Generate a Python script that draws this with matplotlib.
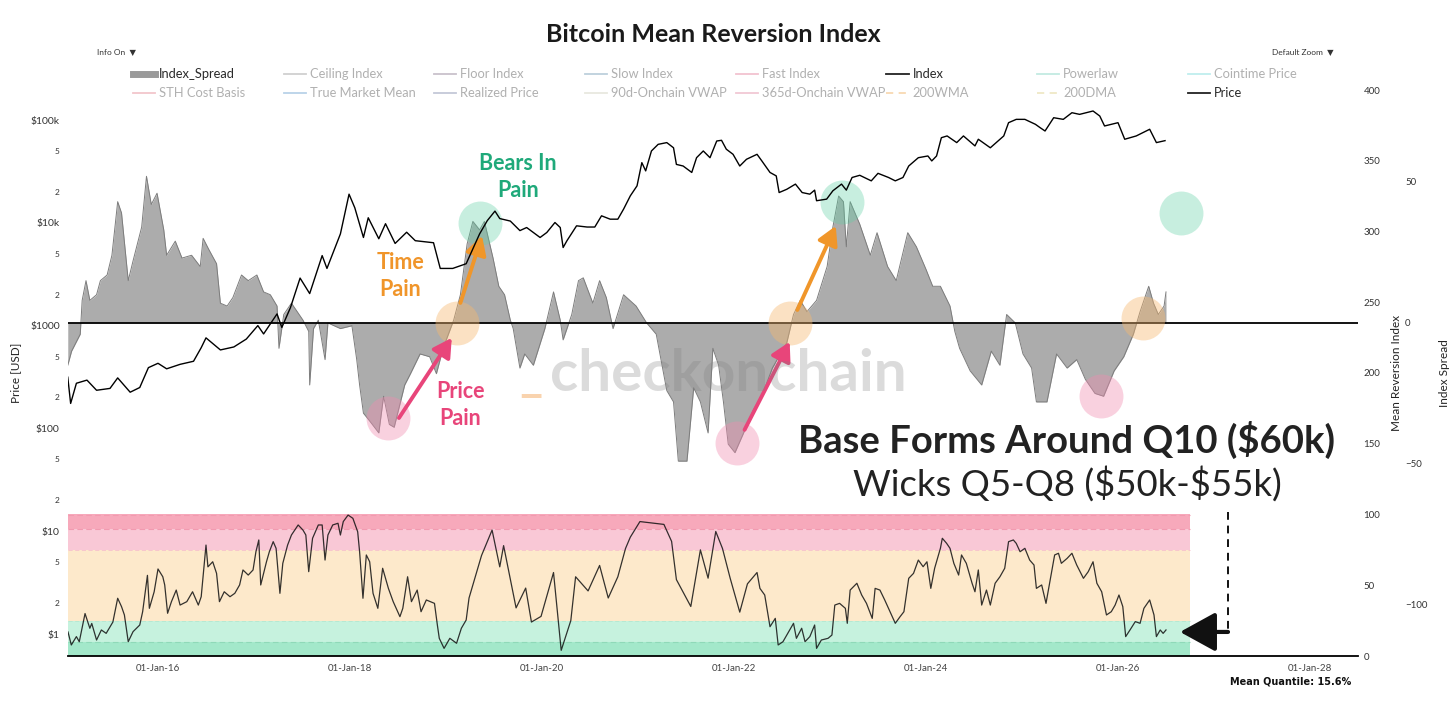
import matplotlib
matplotlib.use("Agg")
import matplotlib.pyplot as plt
from matplotlib.lines import Line2D
from matplotlib.ticker import FixedLocator, FixedFormatter

plt.rcParams['font.family'] = ['Lato', 'DejaVu Sans']

# ---------------------------------------------------------------- data
price_years = [
    2015.06, 2015.09, 2015.15, 2015.26, 2015.36, 2015.50, 2015.58, 2015.71, 2015.81, 2015.90,
    2016.00, 2016.09, 2016.23, 2016.37, 2016.45, 2016.50, 2016.65, 2016.79, 2016.92, 2017.04,
    2017.10, 2017.24, 2017.29, 2017.38, 2017.48, 2017.58, 2017.71, 2017.76, 2017.90, 2017.99,
    2018.05, 2018.14, 2018.19, 2018.30, 2018.37, 2018.47, 2018.59, 2018.68, 2018.87, 2018.94,
    2019.07, 2019.21, 2019.35, 2019.43, 2019.51, 2019.56, 2019.67, 2019.77, 2019.84, 2019.98,
    2020.05, 2020.135, 2020.19, 2020.22, 2020.26, 2020.36, 2020.47, 2020.55, 2020.62, 2020.71,
    2020.79, 2020.85, 2020.92, 2020.99, 2021.04, 2021.08, 2021.14, 2021.21, 2021.30, 2021.37,
    2021.40, 2021.47, 2021.56, 2021.61, 2021.68, 2021.75, 2021.82, 2021.87, 2021.92, 2021.99,
    2022.06, 2022.13, 2022.24, 2022.29, 2022.375, 2022.44, 2022.47, 2022.55, 2022.64, 2022.71,
    2022.79, 2022.84, 2022.86, 2022.965, 2023.03, 2023.12, 2023.17, 2023.23, 2023.31, 2023.43,
    2023.50, 2023.61, 2023.68, 2023.76, 2023.82, 2023.92, 2024.02, 2024.06, 2024.11, 2024.16,
    2024.22, 2024.32, 2024.39, 2024.51, 2024.545, 2024.67, 2024.81, 2024.86, 2024.94, 2025.03,
    2025.14, 2025.19, 2025.24, 2025.33, 2025.43, 2025.52, 2025.60, 2025.74, 2025.81, 2025.86,
    2026.00, 2026.07, 2026.19, 2026.33, 2026.40, 2026.49]
price_usd = [
    315, 175, 275, 295, 235, 245, 310, 225, 250, 390,
    430, 380, 420, 450, 610, 760, 580, 620, 740, 1000,
    830, 1300, 960, 1500, 2900, 2050, 4800, 3600, 7800, 19000,
    14000, 7200, 11200, 7000, 9800, 6300, 8100, 6700, 6400, 3600,
    3600, 4000, 7800, 10500, 13000, 11000, 10400, 8400, 9000, 7200,
    8050, 10070, 9000, 5750, 6700, 9350, 9100, 9100, 11700, 10850,
    10850, 13600, 18300, 22900, 38500, 32000, 50000, 58000, 60300, 53700,
    37000, 35700, 30900, 43000, 50000, 43000, 62500, 63500, 52000, 46400,
    35700, 41500, 46400, 40000, 30900, 28600, 19700, 21200, 23800, 19700,
    19000, 20800, 16400, 17000, 20500, 23800, 20800, 27600, 29000, 25600,
    30300, 27600, 25600, 27600, 35700, 43000, 44700, 40000, 44700, 67300,
    70000, 60300, 70000, 56000, 65000, 53700, 70000, 94200, 101500, 101500,
    90800, 84100, 78200, 105300, 101500, 117800, 113500, 122400, 109400, 87500,
    94200, 65000, 70000, 81300, 60300, 63000]

spread_years = [
    2015.06, 2015.10, 2015.19, 2015.21, 2015.25, 2015.29, 2015.36, 2015.40, 2015.47, 2015.52,
    2015.58, 2015.62, 2015.69, 2015.74, 2015.83, 2015.88, 2015.93, 2015.99, 2016.06, 2016.09,
    2016.18, 2016.25, 2016.35, 2016.44, 2016.47, 2016.53, 2016.61, 2016.65, 2016.72, 2016.78,
    2016.87, 2016.94, 2017.03, 2017.10, 2017.17, 2017.24, 2017.26, 2017.31, 2017.39, 2017.51,
    2017.57, 2017.58, 2017.62, 2017.67, 2017.74, 2017.77, 2017.90, 2018.02, 2018.07, 2018.10,
    2018.14, 2018.21, 2018.30, 2018.35, 2018.41, 2018.46, 2018.57, 2018.63, 2018.73, 2018.83,
    2018.90, 2018.97, 2019.08, 2019.15, 2019.22, 2019.28, 2019.35, 2019.40, 2019.49, 2019.55,
    2019.61, 2019.67, 2019.70, 2019.77, 2019.82, 2019.91, 2020.03, 2020.12, 2020.19, 2020.22,
    2020.31, 2020.38, 2020.43, 2020.53, 2020.60, 2020.67, 2020.74, 2020.85, 2020.98, 2021.09,
    2021.19, 2021.30, 2021.37, 2021.42, 2021.51, 2021.58, 2021.65, 2021.73, 2021.78, 2021.84,
    2021.89, 2021.94, 2022.01, 2022.10, 2022.20, 2022.30, 2022.40, 2022.55, 2022.62, 2022.69,
    2022.76, 2022.86, 2022.97, 2023.03, 2023.09, 2023.14, 2023.17, 2023.21, 2023.31, 2023.42,
    2023.49, 2023.60, 2023.69, 2023.81, 2023.90, 2024.00, 2024.07, 2024.15, 2024.25, 2024.30,
    2024.35, 2024.46, 2024.58, 2024.68, 2024.77, 2024.84, 2024.93, 2025.01, 2025.10, 2025.15,
    2025.26, 2025.36, 2025.47, 2025.57, 2025.66, 2025.76, 2025.85, 2025.96, 2026.06, 2026.16,
    2026.23, 2026.32, 2026.37, 2026.42, 2026.48, 2026.50]
spread_values = [
    -15, -10, -4, 8, 15, 8, 10, 15, 17, 24,
    43, 39, 15, 22, 34, 52, 42, 46, 33, 24,
    29, 23, 24, 20, 30, 26, 21, 7, 6, 9,
    17, 15, 17, 11, 10, 6, -9, 3, 7, 1,
    -3, -22, -2, 1, -13, 0, -2, -1, -13, -22,
    -32, -35, -39, -26, -36, -37, -22, -18, -11, -12,
    -18, -9, 1, 10, 28, 36, 33, 36, 23, 13,
    10, 1, -2, -16, -11, -15, -2, 11, 1, -6,
    3, 15, 16, 7, 15, 9, -2, 10, 6, 0,
    -4, -24, -28, -49, -49, -23, -28, -39, -9, -15,
    -28, -43, -46, -39, -31, -25, -16, -7, 3, 8,
    4, 8, 20, 34, 45, 43, 27, 43, 35, 24,
    32, 20, 15, 32, 27, 19, 13, 13, 6, -3,
    -9, -17, -22, -10, -15, 3, 0, -11, -16, -28,
    -28, -11, -16, -13, -20, -25, -26, -17, -12, -4,
    4, 13, 7, 3, 6, 11]

index_years = [
    2015.0625, 2015.097, 2015.15, 2015.18, 2015.24, 2015.29, 2015.31, 2015.36, 2015.41, 2015.46,
    2015.53, 2015.58, 2015.62, 2015.65, 2015.69, 2015.74, 2015.81, 2015.84, 2015.89, 2015.91,
    2015.96, 2016.00, 2016.05, 2016.07, 2016.10, 2016.14, 2016.19, 2016.23, 2016.30, 2016.36,
    2016.42, 2016.45, 2016.50, 2016.52, 2016.57, 2016.61, 2016.64, 2016.69, 2016.75, 2016.80,
    2016.85, 2016.885, 2016.94, 2016.99, 2017.02, 2017.05, 2017.07, 2017.13, 2017.16, 2017.20,
    2017.23, 2017.27, 2017.30, 2017.35, 2017.39, 2017.46, 2017.51, 2017.54, 2017.57, 2017.61,
    2017.67, 2017.71, 2017.74, 2017.77, 2017.82, 2017.875, 2017.90, 2017.93, 2017.98, 2018.03,
    2018.08, 2018.10, 2018.135, 2018.17, 2018.205, 2018.24, 2018.29, 2018.34, 2018.40, 2018.45,
    2018.52, 2018.55, 2018.60, 2018.64, 2018.70, 2018.74, 2018.795, 2018.88, 2018.91, 2018.93,
    2018.98, 2019.04, 2019.11, 2019.16, 2019.21,
    2019.24, 2019.37, 2019.48, 2019.56, 2019.60, 2019.73, 2019.83, 2019.89, 2019.99, 2020.12,
    2020.20, 2020.30, 2020.35, 2020.48, 2020.60, 2020.69, 2020.79, 2020.87, 2020.92, 2021.02,
    2021.15, 2021.27, 2021.35, 2021.40, 2021.55, 2021.65, 2021.73, 2021.81, 2021.88, 2021.96,
    2022.06, 2022.14, 2022.24,
    2022.27, 2022.32, 2022.36, 2022.375, 2022.43, 2022.46, 2022.51, 2022.57, 2022.62, 2022.65,
    2022.705, 2022.74, 2022.79, 2022.84, 2022.86, 2022.91, 2022.98, 2023.02, 2023.05, 2023.10,
    2023.16, 2023.18, 2023.21, 2023.28, 2023.33, 2023.38, 2023.44, 2023.47, 2023.52, 2023.57,
    2023.625, 2023.68, 2023.73, 2023.77, 2023.82, 2023.87, 2023.92, 2023.97, 2024.01, 2024.05,
    2024.09, 2024.15, 2024.17, 2024.215, 2024.25, 2024.29, 2024.34, 2024.37, 2024.42, 2024.48,
    2024.51, 2024.545, 2024.58, 2024.63, 2024.67, 2024.72, 2024.77, 2024.82, 2024.86, 2024.91,
    2024.94, 2024.98, 2025.03, 2025.08, 2025.125, 2025.15, 2025.205, 2025.25, 2025.29, 2025.34,
    2025.38, 2025.41, 2025.47, 2025.52, 2025.57, 2025.64, 2025.69, 2025.74, 2025.78, 2025.83,
    2025.88, 2025.93, 2025.97, 2026.01, 2026.05, 2026.08, 2026.125, 2026.18, 2026.23, 2026.27,
    2026.33, 2026.375, 2026.40, 2026.44, 2026.47, 2026.50]
index_values = [
    17, 7.8, 13.7, 10.1, 30, 19.6, 23, 11.3, 18.4, 16,
    24, 40.8, 34.9, 29, 10.1, 17.2, 21.9, 31.3, 57, 33.7,
    45.4, 61.5, 56, 50.2, 30.2, 38.4, 46.6, 36, 38.4, 45.4,
    36, 41.9, 78.4, 63, 66.6, 58.4, 38.4, 45.4, 41.9, 44.3,
    50.2, 60.8, 57.2, 60.8, 73.7, 82, 50.2, 66.6, 73.7, 80.8,
    76.1, 44.3, 65.5, 78.4, 85.5, 92.6, 89, 85.5, 59.6, 83.2,
    92.6, 92.6, 67.8, 85.5, 92.6, 93.8, 85.5, 95, 99.6, 97.3,
    87.8, 73.7, 40.8, 71.4, 66.6, 44.3, 33.7, 62, 47.8, 38.4,
    27.8, 33.7, 56, 38.4, 46.6, 31.3, 39.6, 37.2, 21.9, 12.5,
    5.4, 12.5, 9, 19.6, 25.4,
    41, 71, 89, 63, 78, 34, 48, 24, 28, 59,
    4, 25, 56, 46, 64, 41, 56, 76, 84, 95,
    94, 93, 81, 54, 35, 75, 55, 88, 76, 55,
    31, 51, 59,
    47.8, 43.1, 26.6, 20.7, 26.6, 7.8, 10.1, 17.2, 23.1, 12.5,
    19.6, 10.1, 13.7, 21.9, 5.4, 11.3, 12.5, 14.8, 36, 37.2,
    33.7, 23.1, 46.6, 51.4, 43.1, 37.2, 26.6, 47.8, 46.6, 39.6,
    31.3, 23.1, 27.8, 31.3, 54.9, 58.4, 67.8, 63.1, 66.6, 47.8,
    62, 76.1, 83.2, 79.6, 76.1, 65.5, 57.2, 71.4, 65.5, 51.4,
    45.4, 60.8, 36, 46.6, 36, 51.4, 56, 62, 80.8, 82,
    79.6, 73.7, 76.1, 67.8, 64.3, 47.8, 50.2, 37.2, 52.5, 71.4,
    72.6, 65.5, 69, 72.6, 64.3, 54.9, 59.6, 66.6, 51.4, 45.4,
    29, 31.3, 36, 43.1, 34.9, 13.7, 18.4, 24.3, 23.1, 33.7,
    39.6, 29, 13.7, 18.4, 16, 18.4]

band_levels = [0, 10, 25, 75, 90, 100]
band_colors = ['#a3e8ca', '#c6f2de', '#fde9cb', '#f9c8d6', '#f7a9bb']
band_start_year = 2015.0625
band_end_year = 2026.75

x_tick_years = [2016, 2018, 2020, 2022, 2024, 2026, 2028]
x_tick_labels = ['01-Jan-16', '01-Jan-18', '01-Jan-20', '01-Jan-22',
                 '01-Jan-24', '01-Jan-26', '01-Jan-28']
price_major = [1, 10, 100, 1000, 10000, 100000]
price_major_labels = ['\\$1', '\\$10', '\\$100', '\\$1000', '\\$10k', '\\$100k']
price_minor = [2, 5, 20, 50, 200, 500, 2000, 5000, 20000, 50000]
price_minor_labels = ['2', '5'] * 5
mri_ticks = [0, 50, 100, 150, 200, 250, 300, 350, 400]
spread_ticks = [-100, -50, 0, 50]

# annotation anchors (year, index spread)
pain_price = [(2018.40, -33.7), (2022.03, -42.6), (2025.82, -25.9)]
pain_time = [(2019.11, 0.0), (2022.58, 0.0), (2026.26, 1.8)]
pain_bears = [(2019.35, 35.5), (2023.125, 42.9), (2026.66, 39.0)]
price_arrows = [((2018.51, -33.7), (2019.06, -5.3)), ((2022.11, -37.9), (2022.58, -6.7))]
time_arrows = [((2019.15, 7.1), (2019.375, 30.9)), ((2022.66, 4.6), (2023.06, 34.4))]

legend_row1 = ['Index_Spread', 'Ceiling Index', 'Floor Index', 'Slow Index',
               'Fast Index', 'Index', 'Powerlaw', 'Cointime Price']
legend_row1_colors = ['#9a9a9a', '#d0d0d0', '#c9c1cc', '#bdd0dc',
                      '#f2c3d0', '#222222', '#c3ebe2', '#bfeeee']
legend_row2 = ['STH Cost Basis', 'True Market Mean', 'Realized Price', '90d-Onchain VWAP',
               '365d-Onchain VWAP', '200WMA', '200DMA', 'Price']
legend_row2_colors = ['#f2c6cb', '#b9d2e8', '#c4c8d8', '#e8e8df',
                      '#f1c8d4', '#f8d9b2', '#efe8c6', '#222222']
legend_active = {'Index_Spread', 'Index', 'Price'}
legend_dashed = {'200WMA', '200DMA'}

# ---------------------------------------------------------------- figure
W, H = 1456, 707
fig = plt.figure(figsize=(W / 100, H / 100), dpi=100, facecolor='white')


def fx(px):
    return px / W


def fy(py):
    return 1 - py / H


def ftext(px, py, s, **kw):
    kw.setdefault('ha', 'center')
    kw.setdefault('va', 'center')
    return fig.text(fx(px), fy(py), s, **kw)


L, R, T, B = 68, 1358, 90, 656
ax = fig.add_axes([fx(L), fy(B), (R - L) / W, (B - T) / H])
ax_mri = ax.twinx()
ax_spr = ax.twinx()
ax_mri.set_zorder(1)
ax_spr.set_zorder(2)
ax.set_zorder(3)
ax.patch.set_visible(False)

for a in (ax, ax_mri, ax_spr):
    for sp in a.spines.values():
        sp.set_visible(False)
ax.spines['bottom'].set_visible(True)
ax.spines['bottom'].set_color('black')
ax.spines['bottom'].set_linewidth(1.3)

# x axis
ax.set_xlim(2015.0625, 2028.5)
ax.xaxis.set_major_locator(FixedLocator(x_tick_years))
ax.xaxis.set_major_formatter(FixedFormatter(x_tick_labels))
ax.tick_params(axis='x', length=0, pad=6, labelsize=7, labelcolor='#444444')

# left log price axis
ax.set_yscale('log')
ax.set_ylim(0.611, 195900)
ax.yaxis.set_major_locator(FixedLocator(price_major))
ax.yaxis.set_major_formatter(FixedFormatter(price_major_labels))
ax.yaxis.set_minor_locator(FixedLocator(price_minor))
ax.yaxis.set_minor_formatter(FixedFormatter(price_minor_labels))
ax.tick_params(axis='y', which='major', length=0, pad=6, labelsize=7.5, labelcolor='#333333')
ax.tick_params(axis='y', which='minor', length=0, pad=6, labelsize=6, labelcolor='#333333')
ax.set_ylabel('Price [USD]', fontsize=8.5, color='#222222')
ax.yaxis.set_label_coords((16 - L) / (R - L), 0.5)

# right: Mean Reversion Index axis
ax_mri.set_ylim(0, 400)
ax_mri.yaxis.set_major_locator(FixedLocator(mri_ticks))
ax_mri.tick_params(axis='y', length=0, pad=4, labelsize=7, labelcolor='#333333')
ax_mri.set_ylabel('Mean Reversion Index', fontsize=8.5, color='#222222')
ax_mri.yaxis.set_label_coords((1397 - L) / (R - L), 0.5)

# right: Index Spread axis
ax_spr.set_ylim(-118.1, 82.6)
ax_spr.spines['right'].set_position(('outward', 31))
ax_spr.yaxis.set_major_locator(FixedLocator(spread_ticks))
ax_spr.tick_params(axis='y', length=0, pad=3, labelsize=7, labelcolor='#333333')
ax_spr.set_ylabel('Index Spread', fontsize=8.5, color='#222222')
ax_spr.yaxis.set_label_coords((1445 - L) / (R - L), 0.5)
for a in (ax, ax_mri, ax_spr):
    a.yaxis.label.set_ha('center')
    a.yaxis.label.set_va('center')

# bottom panel: quantile bands + index line
for lo, hi, col in zip(band_levels[:-1], band_levels[1:], band_colors):
    ax_mri.fill_between([band_start_year, band_end_year], [lo, lo], [hi, hi],
                        color=col, lw=0, zorder=1)
ax_mri.hlines([10, 90, 100], band_start_year, band_end_year,
              colors=['#8fd9b8', '#f29ab0', '#f29ab0'],
              linestyles=(0, (5, 3)), lw=0.8, zorder=2)
ax_mri.hlines([25, 75], band_start_year, band_end_year, colors=['#b4e8d0', '#f6c0cd'],
              linestyles=(0, (5, 3)), lw=0.6, zorder=2)
ax_mri.plot(index_years, index_values, color='#111111', lw=0.9, alpha=0.85, zorder=3)

# top panel: index spread
ax_spr.fill_between(spread_years, 0, spread_values, color='#acacac', lw=0, zorder=2)
ax_spr.plot(spread_years, spread_values, color='#7c7c7c', lw=0.7, zorder=3)
ax_spr.axhline(0, color='black', lw=1.3, zorder=4)

# pain circles
for pts, col, al in ((pain_price, '#f28cb1', 0.40), (pain_time, '#f6b870', 0.42),
                     (pain_bears, '#5fd1a5', 0.35)):
    ax_spr.scatter([p[0] for p in pts], [p[1] for p in pts], s=1000, color=col,
                   alpha=al, lw=0, zorder=6)

for (p0, p1) in price_arrows:
    ax_spr.annotate('', xy=p1, xytext=p0, zorder=7,
                    arrowprops=dict(arrowstyle='-|>,head_width=0.45,head_length=0.8',
                                    mutation_scale=14, color='#e8457a', lw=2.8,
                                    shrinkA=0, shrinkB=0))
for (p0, p1) in time_arrows:
    ax_spr.annotate('', xy=p1, xytext=p0, zorder=7,
                    arrowprops=dict(arrowstyle='-|>,head_width=0.45,head_length=0.8',
                                    mutation_scale=14, color='#f0962a', lw=2.8,
                                    shrinkA=0, shrinkB=0))

# price line
ax.plot(price_years, price_usd, color='black', lw=1.0, zorder=5)

# bottom-right pointer
ax_mri.plot([2027.146, 2027.146], [101.8, 17.0], color='#111111', lw=1.4,
            linestyle=(0, (4, 3)), zorder=5, clip_on=False)
ax_mri.annotate('', xy=(2026.646, 17.0), xytext=(2027.146, 17.0), zorder=6,
                arrowprops=dict(arrowstyle='-|>,head_width=0.55,head_length=1.0',
                                mutation_scale=22, color='#111111', lw=3,
                                shrinkA=0, shrinkB=0))

# ---------------------------------------------------------------- texts
ftext(713, 35, 'Bitcoin Mean Reversion Index', fontsize=18, fontweight='bold', color='#1a1a1a')
ftext(97, 52, 'Info On  \u25BC', fontsize=6, color='#333333', ha='left')
ftext(1272, 52, 'Default Zoom  \u25BC', fontsize=6, color='#333333', ha='left')

for row, (names, cols) in enumerate(((legend_row1, legend_row1_colors),
                                     (legend_row2, legend_row2_colors))):
    py = 74 + 19 * row
    for i, (name, col) in enumerate(zip(names, cols)):
        x0 = 133 + 150.7 * i
        if name == 'Index_Spread':
            lw, ls = 5, '-'
        elif name in legend_dashed:
            lw, ls = 1.3, (0, (4, 3))
        else:
            lw, ls = 1.3, '-'
        fig.add_artist(Line2D([fx(x0), fx(x0 + 22)], [fy(py), fy(py)], color=col,
                              lw=lw, linestyle=ls, transform=fig.transFigure))
        ftext(x0 + 26, py, name, fontsize=9.3, ha='left',
              color='#2a2a2a' if name in legend_active else '#b0b0b0')

ftext(518, 177, 'Bears In\nPain', fontsize=15.5, fontweight='bold', color='#1fa97a',
      linespacing=1.3)
ftext(400, 276, 'Time\nPain', fontsize=15.5, fontweight='bold', color='#f0952a',
      linespacing=1.3)
ftext(460, 405, 'Price\nPain', fontsize=15.5, fontweight='bold', color='#e8457a',
      linespacing=1.3)
ftext(1067, 440, 'Base Forms Around Q10 (\\$60k)', fontsize=27.5, fontweight='bold',
      color='#222222')
ftext(1067, 484, 'Wicks Q5-Q8 (\\$50k-\\$55k)', fontsize=26.3, fontweight='normal',
      color='#222222')
ftext(550, 391, 'checkonchain', fontsize=42, fontweight='bold', color='#808080',
      alpha=0.28, zorder=10, ha='left', va='baseline')
ftext(519, 391, '_', fontsize=36, fontweight='bold', color='#f8c99a', alpha=0.8,
      zorder=10, ha='left', va='baseline')
ftext(1291, 682, 'Mean Quantile: 15.6%', fontsize=7, fontweight='bold', color='#111111',
      family=['Liberation Sans Narrow', 'DejaVu Sans'])

fig.savefig('out.png', dpi=100, facecolor='white')
